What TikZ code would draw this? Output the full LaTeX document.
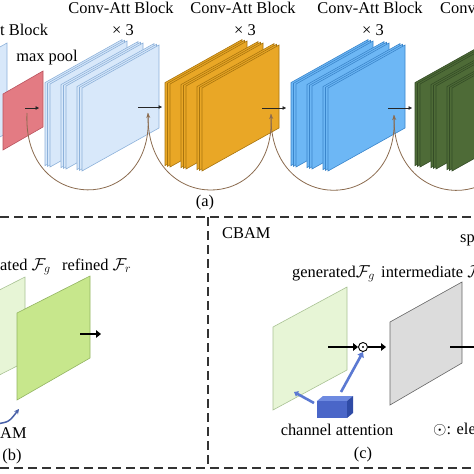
\documentclass[tikz,border=0pt]{standalone}
\usepackage{fontspec}
\setmainfont{Liberation Serif}
\usetikzlibrary{arrows.meta}

\definecolor{paleblue}{HTML}{D8E8FA}
\definecolor{palebluedge}{HTML}{8DB1DA}
\definecolor{gold}{HTML}{E9A726}
\definecolor{goldedge}{HTML}{A8740E}
\definecolor{skyblue}{HTML}{6DB7F5}
\definecolor{skyedge}{HTML}{3A85CB}
\definecolor{moss}{HTML}{4E6B37}
\definecolor{mossedge}{HTML}{344C26}
\definecolor{poolred}{HTML}{E37B83}
\definecolor{pooledge}{HTML}{B9535E}
\definecolor{palegreen}{HTML}{E7F5D6}
\definecolor{palegreenedge}{HTML}{A9C294}
\definecolor{leafgreen}{HTML}{C7E78C}
\definecolor{leafedge}{HTML}{93B462}
\definecolor{midgray}{HTML}{DCDCDC}
\definecolor{skipbrown}{HTML}{8B6B4F}
\definecolor{attblue}{HTML}{5B79D2}
\definecolor{boxfront}{HTML}{4A66C8}
\definecolor{boxtop}{HTML}{6E8AE0}
\definecolor{boxside}{HTML}{2F4BA6}

\tikzset{
	lbl/.style={inner sep=0pt, font=\fontsize{16.4}{19}\selectfont},
	frame/.style={dashed, dash pattern=on 9pt off 5pt, line width=1.2pt, draw=black!80},
	skip/.style={draw=skipbrown, line width=0.8pt, -{Stealth[length=5pt,width=4pt]}},
	thin arrow/.style={draw=black!85, line width=0.5pt, -{Triangle[length=3.5pt,width=3.5pt]}},
	fat arrow/.style={line width=2.8pt, -{Triangle[length=5pt,width=7.5pt]}},
	att arrow/.style={draw=attblue, line width=2.6pt},
}

\newcommand{\featplate}[3]{%
	\draw[#3] (#1,#2) -- ++(77,-43) -- ++(0,-83) -- ++(-77,43) -- cycle;
}
\newcommand{\convstage}[4]{%
	\foreach \g in {2,1,0}{
		\foreach \l in {2,1,0}{
			\featplate{#1-16*\g-2.5*\l}{#2-2*\g-0.7*\l}{fill=#3, draw=#4, line width=0.6pt}
		}
	}
}

\begin{document}
\begin{tikzpicture}[x=1pt,y=-1pt]
	\useasboundingbox (0,0) rectangle (474,474);
	\clip (0,0) rectangle (474,474);

	% (a) backbone
	\draw[fill=paleblue, draw=palebluedge, line width=0.6pt] (7,133) -- (7,43) -- (-70,86) -- (-70,176) -- cycle;
	\draw[fill=poolred, draw=pooledge, line width=0.6pt] (3,150) -- (43,127) -- (43,71) -- (3,94) -- cycle;
	\convstage{82}{171}{paleblue}{palebluedge}
	\convstage{202}{171}{gold}{goldedge}
	\convstage{328}{171}{skyblue}{skyedge}
	\convstage{452}{171}{moss}{mossedge}

	\node[lbl, anchor=west] (prev) at (0,30) {t Block};
	\node[lbl] (pool) at (47,58) {max pool};
	\node[lbl] (blk1) at (121,8) {Conv-Att Block};
	\node[lbl] (rep1) at (123,30) {× 3};
	\node[lbl] (blk2) at (243,8) {Conv-Att Block};
	\node[lbl] (rep2) at (245,30) {× 3};
	\node[lbl] (blk3) at (370,8) {Conv-Att Block};
	\node[lbl] (rep3) at (373,30) {× 3};
	\node[lbl, anchor=west] (blk4) at (440,8) {Conv};
	\node[lbl] (capa) at (205,203) {(a)};

	\coordinate (p0) at (25,108);  \coordinate (q0) at (39,108);
	\coordinate (p1) at (138,107); \coordinate (q1) at (162,107);
	\coordinate (p2) at (262,108); \coordinate (q2) at (286,108);
	\coordinate (p3) at (388,108); \coordinate (q3) at (412,108);
	\foreach \i in {0,...,3}
		\draw[thin arrow] (p\i) -- (q\i);

	\coordinate (k0) at (27,113);
	\coordinate (k1) at (148,113);
	\coordinate (k2) at (271,114);
	\coordinate (k3) at (394,115);
	\coordinate (k4) at (516,115);
	\draw[skip] (k0) .. controls (22,215) and (153,215) .. (k1);
	\draw[skip] (k1) .. controls (145,215) and (275,215) .. (k2);
	\draw[skip] (k2) .. controls (268,215) and (398,215) .. (k3);
	\draw[skip] (k3) .. controls (391,215) and (521,215) .. (k4);

	% frames
	\draw[frame] (0,217) -- (474,217);
	\draw[frame] (208,217) -- (208,468);
	\draw[frame] (0,468) -- (474,468);

	% (b)
	\draw[fill=palegreen, draw=palegreenedge, line width=0.6pt] (-48,399) -- (25,362) -- (25,277) -- (-48,314) -- cycle;
	\draw[fill=leafgreen, draw=leafedge, line width=0.6pt] (17,400) -- (90,358) -- (90,276) -- (17,313) -- cycle;
	\coordinate (rout) at (80,334);
	\coordinate (rend) at (101,334);
	\draw[fat arrow] (rout) -- (rend);
	\coordinate (cbin) at (-4,424);
	\coordinate (cbout) at (19,409);
	\draw[draw=attblue!80!black, line width=1.5pt, -{Stealth[length=5pt,width=5pt]}] (cbin) .. controls (9,422) .. (cbout);
	\node[lbl, anchor=base west] (genb) at (0,270) {ated $\mathcal{F}_g$};
	\node[lbl, anchor=base west] (refb) at (62,270) {refined $\mathcal{F}_r$};
	\node[lbl, anchor=base west] (camb) at (0,438) {AM};
	\node[lbl] (capb) at (12,457) {(b)};

	% (c)
	\draw[fill=palegreen, draw=palegreenedge, line width=0.6pt] (273,410) -- (347,370) -- (347,287) -- (273,327) -- cycle;
	\draw[fill=midgray, draw=black!60, line width=0.6pt] (390,405) -- (462,363) -- (462,282) -- (390,322) -- cycle;
	\fill[boxtop] (317,401) -- (323,396) -- (353,396) -- (347,401) -- cycle;
	\fill[boxside] (347,401) -- (353,396) -- (353,413) -- (347,418) -- cycle;
	\fill[boxfront] (317,401) rectangle (347,418);
	\node[circle, draw, line width=0.9pt, inner sep=0pt, minimum size=9pt] (mul) at (363,347) {};
	\fill (mul.center) circle (1.2pt);
	\coordinate (gout) at (328,347);
	\coordinate (mout) at (386,347);
	\coordinate (iout) at (450,347);
	\coordinate (iend) at (480,347);
	\draw[fat arrow] (gout) -- (mul.west);
	\draw[fat arrow] (mul.east) -- (mout);
	\draw[line width=2.8pt] (iout) -- (iend);
	\draw[att arrow, -{Triangle[length=5pt,width=7pt]}] (341,392) -- (mul.south);
	\draw[att arrow, {Triangle[length=4pt,width=6pt]}-] (294,392) -- (314,403);
	\node[lbl, anchor=west] (cbam) at (222,233) {CBAM};
	\node[lbl, anchor=west] (spat) at (460,240) {sp};
	\node[lbl, anchor=base west] (genc) at (292,277) {generated$\mathcal{F}_g$};
	\node[lbl, anchor=base west] (intc) at (381,277) {intermediate $\mathcal{F}$};
	\node[lbl] (chat) at (337,430) {channel attention};
	\node[lbl, anchor=west] (note) at (433,430) {$\odot$: ele};
	\node[lbl] (capc) at (363,455) {(c)};
\end{tikzpicture}
\end{document}
